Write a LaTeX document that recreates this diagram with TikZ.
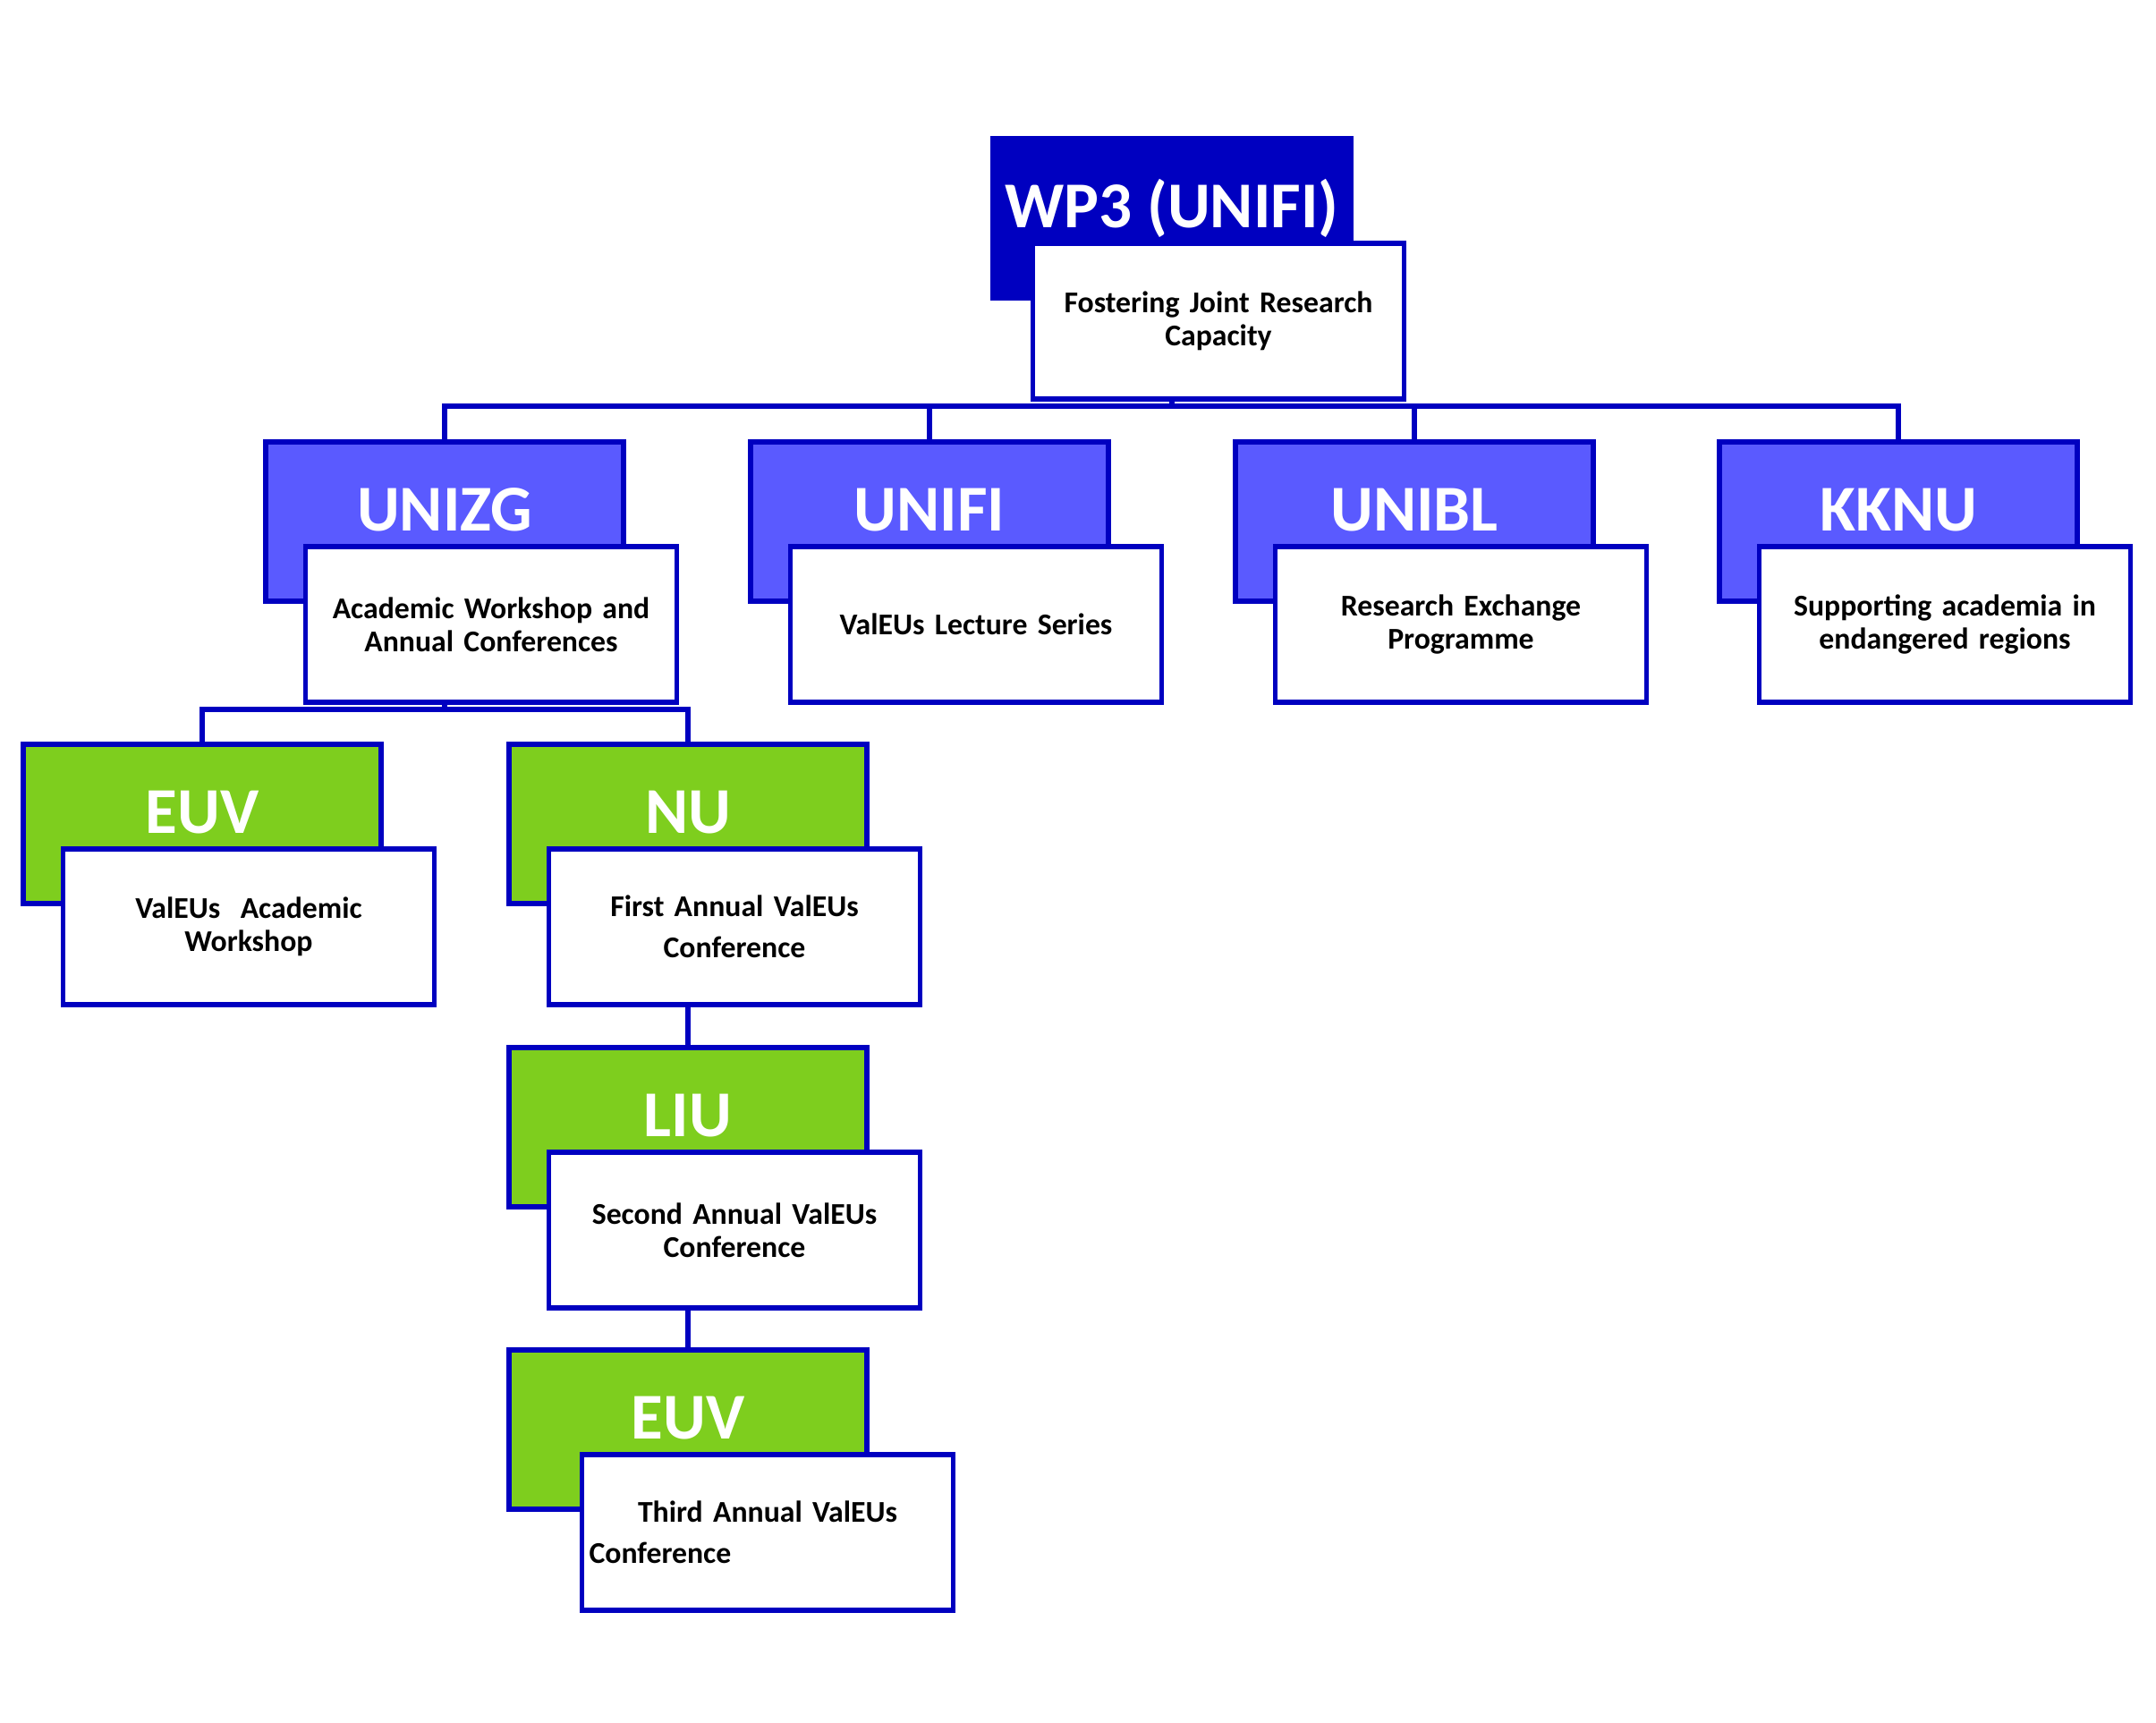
\documentclass[tikz,border=0pt]{standalone}
\usepackage{fontspec}
\setmainfont{Carlito}
\usetikzlibrary{backgrounds}
\definecolor{wpblue}{RGB}{0,0,192}
\definecolor{partblue}{RGB}{90,90,255}
\definecolor{taskgreen}{RGB}{126,206,30}

\begin{document}
\begin{tikzpicture}[
    head/.style={draw=wpblue,line width=1.6pt,minimum width=4cm,minimum height=1.78cm,inner sep=0pt,text=white,font=\bfseries\fontsize{20.8}{25}\selectfont,text height=0.47cm,text depth=0.26cm},
    desc/.style={draw=wpblue,fill=white,line width=1.6pt,minimum width=4.15cm,minimum height=1.74cm,text width=3.95cm,inner sep=0.1cm,align=center,font=\bfseries\fontsize{9.6}{10.5}\selectfont,xshift=0.52cm,yshift=-1.15cm},
    link/.style={draw=wpblue,line width=1.6pt}]
    \useasboundingbox (0,0) rectangle (24.1,-19.25);

    % top
    \node[head,fill=wpblue] (wp) at (13.10,-2.44) {WP3 (UNIFI)};
    \node[desc] (wp-d) at (wp) {Fostering Joint Research\\Capacity};

    % partners
    \node[head,fill=partblue] (unizg) at (4.97,-5.83) {UNIZG}; \node[desc] (unizg-d) at (unizg) {Academic Workshop and\\Annual Conferences};
    \node[head,fill=partblue] (unifi) at (10.39,-5.83) {UNIFI}; \node[desc] (unifi-d) at (unifi) {ValEUs Lecture Series};
    \node[head,fill=partblue] (unibl) at (15.81,-5.83) {UNIBL}; \node[desc] (unibl-d) at (unibl) {Research Exchange\\Programme};
    \node[head,fill=partblue] (kknu) at (21.22,-5.83) {KKNU}; \node[desc] (kknu-d) at (kknu) {Supporting academia in\\endangered regions};

    % events
    \node[head,fill=taskgreen] (euva) at (2.26,-9.21) {EUV}; \node[desc] (euva-d) at (euva) {ValEUs\ \ Academic\\Workshop};
    \node[head,fill=taskgreen] (nu) at (7.69,-9.21) {NU}; \node[desc] (nu-d) at (nu) {First Annual ValEUs\\[2.6pt]Conference};
    \node[head,fill=taskgreen] (liu) at (7.69,-12.60) {LIU}; \node[desc] (liu-d) at (liu) {Second Annual ValEUs\\Conference};
    \node[head,fill=taskgreen] (euvb) at (7.69,-15.98) {EUV}; \node[desc,xshift=0.37cm,align=left,inner xsep=0.08cm,text width=3.99cm] (euvb-d) at (euvb) {\makebox[\linewidth]{Third Annual ValEUs}\\[2.6pt]Conference};

    \begin{scope}[on background layer]
        \draw[link] (wp.south) -- ++(0,-1.18) -| (unizg.north); \draw[link] (wp.south) -- ++(0,-1.18) -| (unifi.north); \draw[link] (wp.south) -- ++(0,-1.18) -| (unibl.north); \draw[link] (wp.south) -- ++(0,-1.18) -| (kknu.north);
        \draw[link] (unizg.south) -- ++(0,-1.18) -| (euva.north); \draw[link] (unizg.south) -- ++(0,-1.18) -| (nu.north);
        \draw[link] (nu.south) -- (liu.north); \draw[link] (liu.south) -- (euvb.north);
    \end{scope}
\end{tikzpicture}
\end{document}
